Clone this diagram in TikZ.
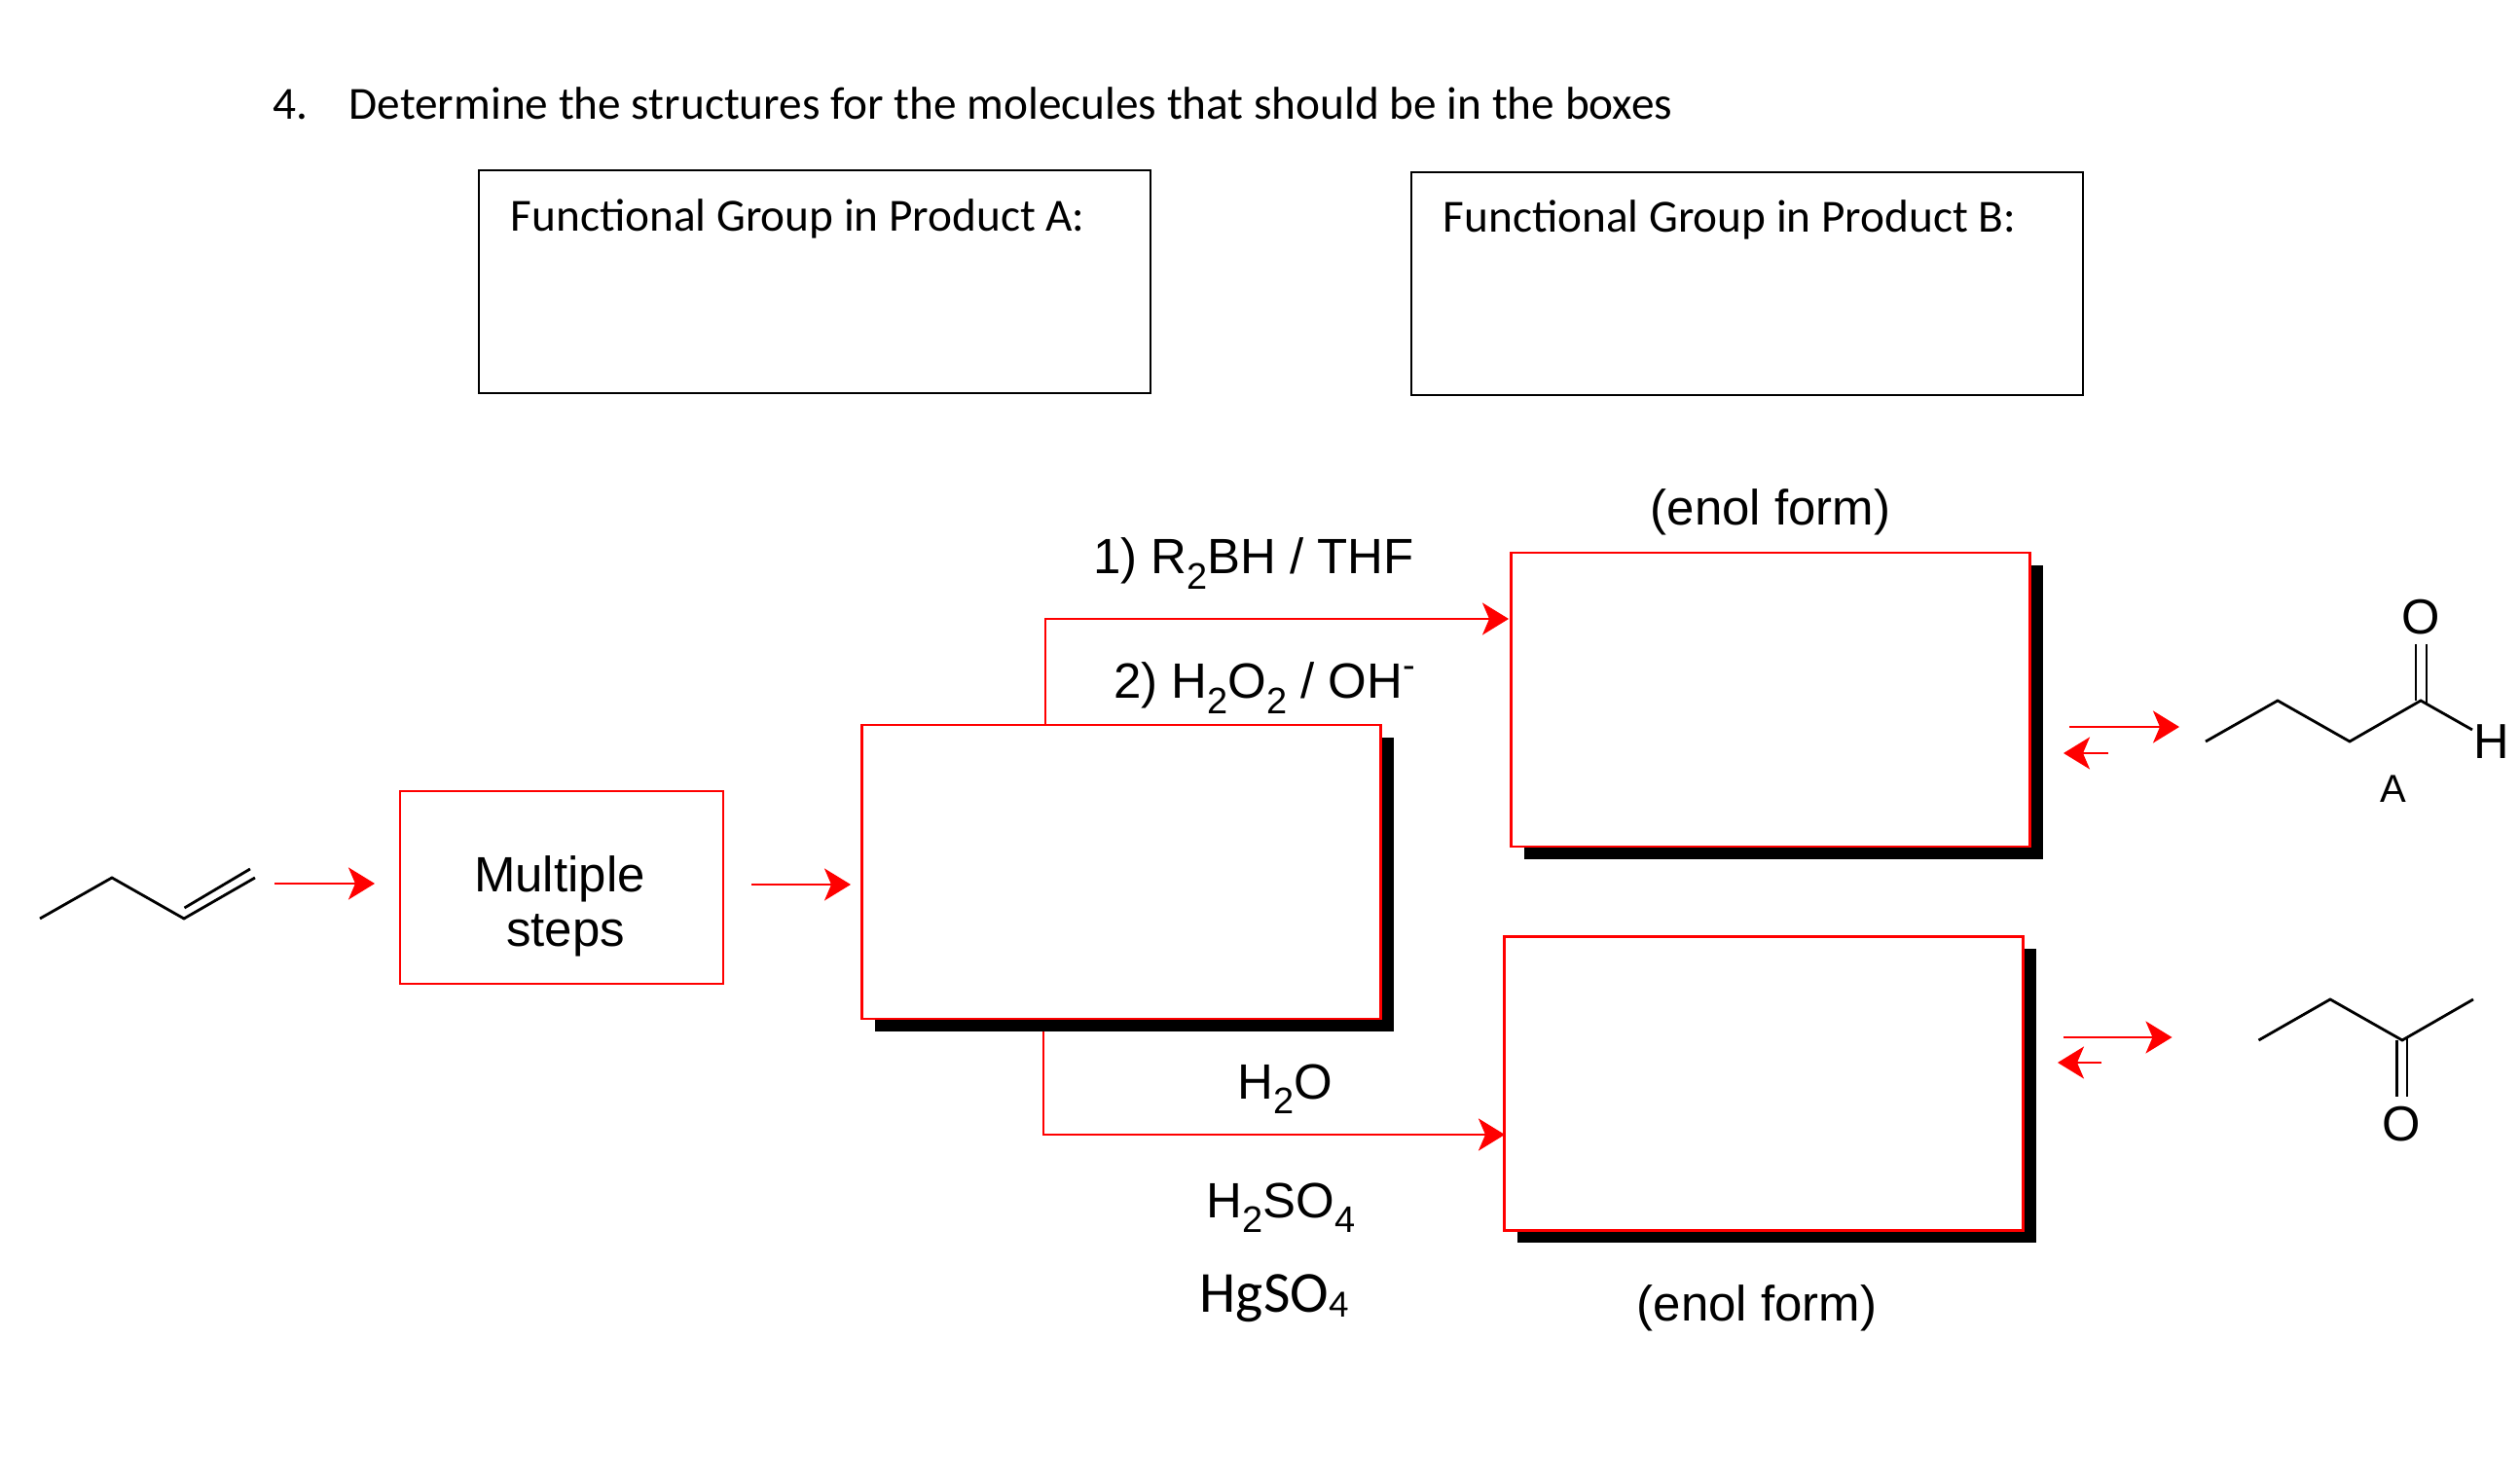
\documentclass[tikz,border=0pt]{standalone}
\usepackage{fontspec}
\setmainfont{Liberation Sans}
\newfontfamily\calibrifont{Carlito}
\usetikzlibrary{arrows.meta,shadows}

\newcommand{\chemsub}[1]{\raisebox{-0.3em}{\fontsize{10.8}{12}\selectfont #1}}
\newcommand{\chemsup}[1]{\raisebox{0.42em}{\fontsize{10.8}{12}\selectfont #1}}

\tikzset{
  blackbox/.style={draw=black, line width=0.7pt, inner sep=0pt},
  redbox/.style={draw=red, line width=0.6pt, inner sep=0pt},
  enolbox/.style={redbox, fill=white, minimum width=5.33cm, minimum height=3.02cm,
    drop shadow={shadow xshift=0.13cm, shadow yshift=-0.13cm, fill=black, opacity=1}},
  redarrow/.style={draw=red, line width=0.65pt, -{Stealth[length=0.27cm,width=0.33cm,inset=0.07cm,fill=red]}},
  bond/.style={line width=0.8pt, line join=miter},
  reagent/.style={font=\fontsize{14.5}{17}\selectfont, inner sep=0pt},
  atom/.style={font=\fontsize{14.4}{17}\selectfont, inner sep=0pt},
  heading/.style={font=\calibrifont\fontsize{13.45}{16}\selectfont, inner sep=0pt, anchor=base west},
}

\begin{document}
\begin{tikzpicture}
\useasboundingbox (0,0) rectangle (25.89,15.24);

% question and the two answer boxes
\node[heading] (number) at (2.80,14.01) {4.};
\node[heading] (question) at (3.58,14.01) {Determine the structures for the molecules that should be in the boxes};
\node[blackbox, minimum width=6.90cm, minimum height=2.29cm] (groupA) at (8.37,12.345) {};
\node[blackbox, minimum width=6.90cm, minimum height=2.29cm] (groupB) at (17.95,12.325) {};
\node[heading] (groupAtext) at (5.24,12.86) {Functional Group in Product A:};
\node[heading] (groupBtext) at (14.82,12.85) {Functional Group in Product B:};

% boxes of the scheme
\node[redbox, minimum width=3.32cm, minimum height=1.98cm] (steps) at (5.77,6.12) {};
\node[reagent] (stepsA) at (5.75,6.21) {Multiple};
\node[reagent] (stepsB) at (5.81,5.63) {steps};
\node[enolbox] (vinyl) at (11.52,6.28) {};
\node[enolbox] (enolA) at (18.19,8.05) {};
\node[enolbox] (enolB) at (18.12,4.105) {};

% reagents
\node[reagent] (enolAtext) at (18.19,9.98) {(enol form)};
\node[reagent] (enolBtext) at (18.05,1.80) {(enol form)};
\node[reagent] (hydroA) at (12.88,9.45) {1) R\chemsub{2}BH / THF};
\node[reagent] (hydroB) at (12.99,8.17) {2) H\chemsub{2}O\chemsub{2} / OH\chemsup{-}};
\node[reagent] (waterA) at (13.20,4.05) {H\chemsub{2}O};
\node[reagent] (waterB) at (13.16,2.83) {H\chemsub{2}SO\chemsub{4}};
\node[reagent, font=\calibrifont\fontsize{17}{20}\selectfont] (waterC) at (13.09,1.90) {HgSO\raisebox{-0.09em}{\fontsize{11.3}{13}\selectfont 4}};

% connectors
\coordinate (alkeneOut) at (2.82,6.16);
\coordinate (stepsIn) at (3.85,6.16);
\coordinate (stepsOut) at (7.72,6.15);
\coordinate (vinylIn) at (8.74,6.15);
\coordinate (hydroOut) at (10.74,7.79);
\coordinate (hydroIn) at (15.50,8.88);
\coordinate (waterOut) at (10.72,4.64);
\coordinate (waterIn) at (15.46,3.58);
\draw[redarrow] (alkeneOut) -- (stepsIn);
\draw[redarrow] (stepsOut) -- (vinylIn);
\draw[redarrow] (hydroOut) |- (hydroIn);
\draw[redarrow, line width=0.8pt] (waterOut) |- (waterIn);

% equilibrium arrows
\coordinate (eqAa) at (21.26,7.77);
\coordinate (eqAb) at (22.39,7.77);
\coordinate (eqAc) at (21.66,7.50);
\coordinate (eqAd) at (21.20,7.50);
\coordinate (eqBa) at (21.20,4.58);
\coordinate (eqBb) at (22.315,4.58);
\coordinate (eqBc) at (21.59,4.32);
\coordinate (eqBd) at (21.14,4.32);
\draw[redarrow] (eqAa) -- (eqAb);
\draw[redarrow] (eqAc) -- (eqAd);
\draw[redarrow] (eqBa) -- (eqBb);
\draw[redarrow] (eqBc) -- (eqBd);

% alkene
\draw[bond] (0.41,5.80) -- (1.15,6.22) -- (1.89,5.80) -- (2.62,6.22);
\draw[bond] (1.895,5.91) -- (2.57,6.31);

% aldehyde
\node[atom] (oxA) at (24.87,8.90) {O};
\node[atom] (hyd) at (25.60,7.62) {H};
\node[font=\fontsize{11.4}{14}\selectfont, inner sep=0pt] (labelA) at (24.59,7.13) {A};
\coordinate (chainA) at (24.87,8.04);
\draw[bond] (22.66,7.62) -- (23.40,8.04) -- (24.14,7.62) -- (chainA) -- (25.40,7.74);
\draw[bond] (24.82,8.62) -- (24.82,8.04);
\draw[bond] (24.93,8.62) -- (24.93,8.02);

% ketone
\node[atom] (oxB) at (24.67,3.69) {O};
\coordinate (chainB) at (24.68,4.55);
\draw[bond] (23.205,4.55) -- (23.94,4.97) -- (chainB) -- (25.41,4.97);
\draw[bond] (24.625,3.97) -- (24.625,4.55);
\draw[bond] (24.73,3.97) -- (24.73,4.57);
\end{tikzpicture}
\end{document}
